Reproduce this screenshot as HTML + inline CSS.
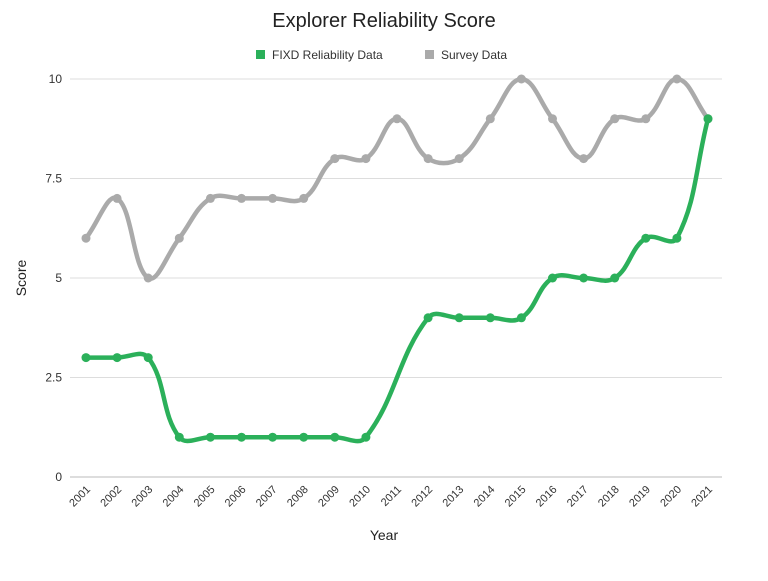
<!DOCTYPE html>
<html><head><meta charset="utf-8"><style>
body{margin:0;background:#fff;font-family:"Liberation Sans",sans-serif}
</style></head><body>
<svg id="chart" width="768" height="576" xmlns="http://www.w3.org/2000/svg" font-family="Liberation Sans, sans-serif">
<text x="384" y="27" text-anchor="middle" font-size="20" fill="#222">Explorer Reliability Score</text>
<g>
<g><rect x="256" y="50" width="9" height="9" fill="#2bb05a"/><text x="272" y="59" font-size="12" fill="#333">FIXD Reliability Data</text></g>
<g><rect x="425" y="50" width="9" height="9" fill="#aaaaaa"/><text x="441" y="59" font-size="12" fill="#333">Survey Data</text></g>
</g>
<g id="grid"></g>
<g id="series"></g>
<text transform="translate(26,278) rotate(-90)" text-anchor="middle" font-size="14" fill="#222">Score</text>
<text x="384" y="540" text-anchor="middle" font-size="14" fill="#222">Year</text>
</svg>
<script>
const years=["2001","2002","2003","2004","2005","2006","2007","2008","2009","2010","2011","2012","2013","2014","2015","2016","2017","2018","2019","2020","2021"];
const fixd=[3,3,3,1,1,1,1,1,1,1,null,4,4,4,4,5,5,5,6,6,9];
const survey=[6,7,5,6,7,7,7,7,8,8,9,8,8,9,10,9,8,9,9,10,9];
const yTicks=[0,2.5,5,7.5,10];
const yTickLabels=["0","2.5","5","7.5","10"];
const NS="http://www.w3.org/2000/svg";
const x0=86,x1=708,yTop=79,yBot=477;
const xs=i=>x0+i*(x1-x0)/(years.length-1);
const ys=v=>yBot-v/10*(yBot-yTop);
const grid=document.getElementById('grid'),ser=document.getElementById('series');
function mk(t,a,p){const e=document.createElementNS(NS,t);for(const k in a)e.setAttribute(k,a[k]);p.appendChild(e);return e;}
yTicks.forEach((v,i)=>{
 const l=mk('line',{x1:70,x2:722,y1:ys(v),y2:ys(v),stroke:i==0?'#bbb':'#ddd','stroke-width':1},grid);
 
 
 const t=mk('text',{x:62,y:ys(v)+4,'text-anchor':'end','font-size':12,fill:'#333'},grid);
 t.textContent=yTickLabels[i];
 
 
});
years.forEach((y,i)=>{
 const t=mk('text',{transform:`translate(${xs(i)+5},${490}) rotate(-45)`,'text-anchor':'end','font-size':11,fill:'#333'},grid);
 t.textContent=y;
 
 
});
function path(data){
 const pts=[];data.forEach((v,i)=>{if(v!=null)pts.push([xs(i),ys(v)]);});
 const T=0.4;const cps=pts.map((p,i)=>{
  const pr=pts[i-1]||p,nx=pts[i+1]||p;
  const d01=Math.hypot(p[0]-pr[0],p[1]-pr[1]),d12=Math.hypot(nx[0]-p[0],nx[1]-p[1]);
  let s01=d01/(d01+d12),s12=d12/(d01+d12);if(isNaN(s01))s01=0;if(isNaN(s12))s12=0;
  const fa=T*s01,fb=T*s12;
  return{pv:[p[0]-fa*(nx[0]-pr[0]),p[1]-fa*(nx[1]-pr[1])],nx:[p[0]+fb*(nx[0]-pr[0]),p[1]+fb*(nx[1]-pr[1])]};
 });
 let d=`M${pts[0][0]},${pts[0][1]}`;
 for(let i=1;i<pts.length;i++){const a=cps[i-1].nx,b=cps[i].pv;d+=`C${a[0]},${a[1]} ${b[0]},${b[1]} ${pts[i][0]},${pts[i][1]}`;}
 return{d,pts};
}
function draw(data,color,name){
 const r=path(data);
 const p=mk('path',{d:r.d,fill:'none',stroke:color,'stroke-width':4.5},ser);
 
 
 r.pts.forEach(q=>{const c=mk('circle',{cx:q[0],cy:q[1],r:4.5,fill:color},ser);
  
  });
}
draw(survey,'#aaaaaa','survey');
draw(fixd,'#2bb05a','fixd');
</script>
</body></html>
